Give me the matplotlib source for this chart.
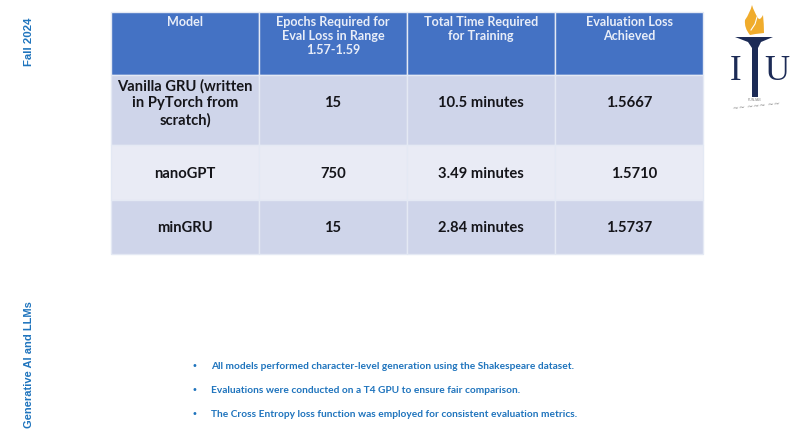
import matplotlib
matplotlib.use("Agg")
import matplotlib.pyplot as plt
from matplotlib.patches import Rectangle, Polygon, PathPatch
from matplotlib.path import Path

headers = ["Model", "Epochs Required for\nEval Loss in Range\n1.57-1.59",
           "Total Time Required\nfor Training", "Evaluation Loss\nAchieved"]
models = ["Vanilla GRU (written\nin PyTorch from\nscratch)", "nanoGPT", "minGRU"]
epochs = ["15", "750", "15"]
times = ["10.5 minutes", "3.49 minutes", "2.84 minutes"]
losses = ["1.5667", "1.5710", "1.5737"]
bullets = ["All models performed character-level generation using the Shakespeare dataset.",
           "Evaluations were conducted on a T4 GPU to ensure fair comparison.",
           "The Cross Entropy loss function was employed for consistent evaluation metrics."]

col_edges = [111, 259, 407, 555, 703]
row_edges = [12, 75, 145, 200, 254]
HEAD = "#4472c4"; ROW_A = "#cfd5ea"; ROW_B = "#e9ebf5"; GAP = "#e4e9f4"
BLUE = "#1f74bd"; NAVY = "#1c2b56"; GOLD = "#f0ac2c"
FONT = "Lato"

fig = plt.figure(figsize=(8, 4.44), dpi=100, facecolor="white")
ax = fig.add_axes([0, 0, 1, 1])
ax.set_xlim(0, 800); ax.set_ylim(444, 0); ax.axis("off")

rows = [headers] + [list(r) for r in zip(models, epochs, times, losses)]
fills = [HEAD, ROW_A, ROW_B, ROW_A]
for r, row in enumerate(rows):
    y0, y1 = row_edges[r], row_edges[r + 1]
    for c, txt in enumerate(row):
        x0, x1 = col_edges[c], col_edges[c + 1]
        ax.add_patch(Rectangle((x0, y0), x1 - x0, y1 - y0, fc=fills[r], ec=GAP, lw=1.0))
        xc = (x0 + x1) / 2
        if r == 0:
            ax.text(xc, y0 + 4, txt, ha="center", va="top", color="#e8edf8", fontsize=9.1,
                    family=FONT, weight="bold", linespacing=1.22)
        else:
            dx = 5 if (r == 2 and c == 3) else 0
            yc = (y0 + y1) / 2
            if r == 1:
                yc -= 7
            else:
                yc += 1
            ax.text(xc + dx, yc, txt, ha="center", va="center", color="#15151a", fontsize=10.6,
                    family=FONT, weight="bold", linespacing=1.25)

ax.text(29, 42, "Fall 2024", rotation=90, ha="center", va="center", color=BLUE,
        fontsize=8.2, family="Liberation Sans", weight="bold")
ax.text(29, 364.5, "Generative AI and LLMs", rotation=90, ha="center", va="center", color=BLUE,
        fontsize=8, family="Liberation Sans", weight="bold")

for y, txt in zip([366, 390, 414], bullets):
    ax.text(194, y, "\u2022", ha="center", va="center", color=BLUE, fontsize=7)
    ax.text(211, y, txt, ha="left", va="center", color=BLUE, fontsize=7.28,
            family="Lato", weight="bold")

# logo: flame
flame = Path([(752, 5), (750, 13), (745, 20), (744, 28), (750, 35), (754, 34),
              (764, 33), (764, 24), (763, 15), (760, 21), (758, 18), (754, 12), (752, 5)],
             [Path.MOVETO] + [Path.CURVE3] * 12)
ax.add_patch(PathPatch(flame, fc=GOLD, ec="none"))
ax.plot([751, 755, 757], [30, 24, 17], color="white", lw=0.8)
# logo: torch
ax.add_patch(Polygon([(735, 37), (773, 37), (761, 42), (758, 48), (758, 97), (752, 97),
                      (752, 48), (748, 42)], closed=True, fc=NAVY, ec="none"))
ax.text(736, 71, "I", ha="center", va="center", color=NAVY, fontsize=25, family="Liberation Serif")
ax.text(777, 71, "U", ha="center", va="center", color=NAVY, fontsize=25, family="Liberation Serif")
ax.text(755, 100, "PUNJAB", ha="center", va="center", color="#888888", fontsize=2.5, family="Liberation Sans")
ax.text(756, 106, "\u223c\u223c \u223c\u223c\u223c \u223c\u223c", rotation=6, ha="center", va="center",
        color="#777777", fontsize=5.2, family="DejaVu Sans")

fig.savefig("out.png", dpi=100, facecolor="white")
